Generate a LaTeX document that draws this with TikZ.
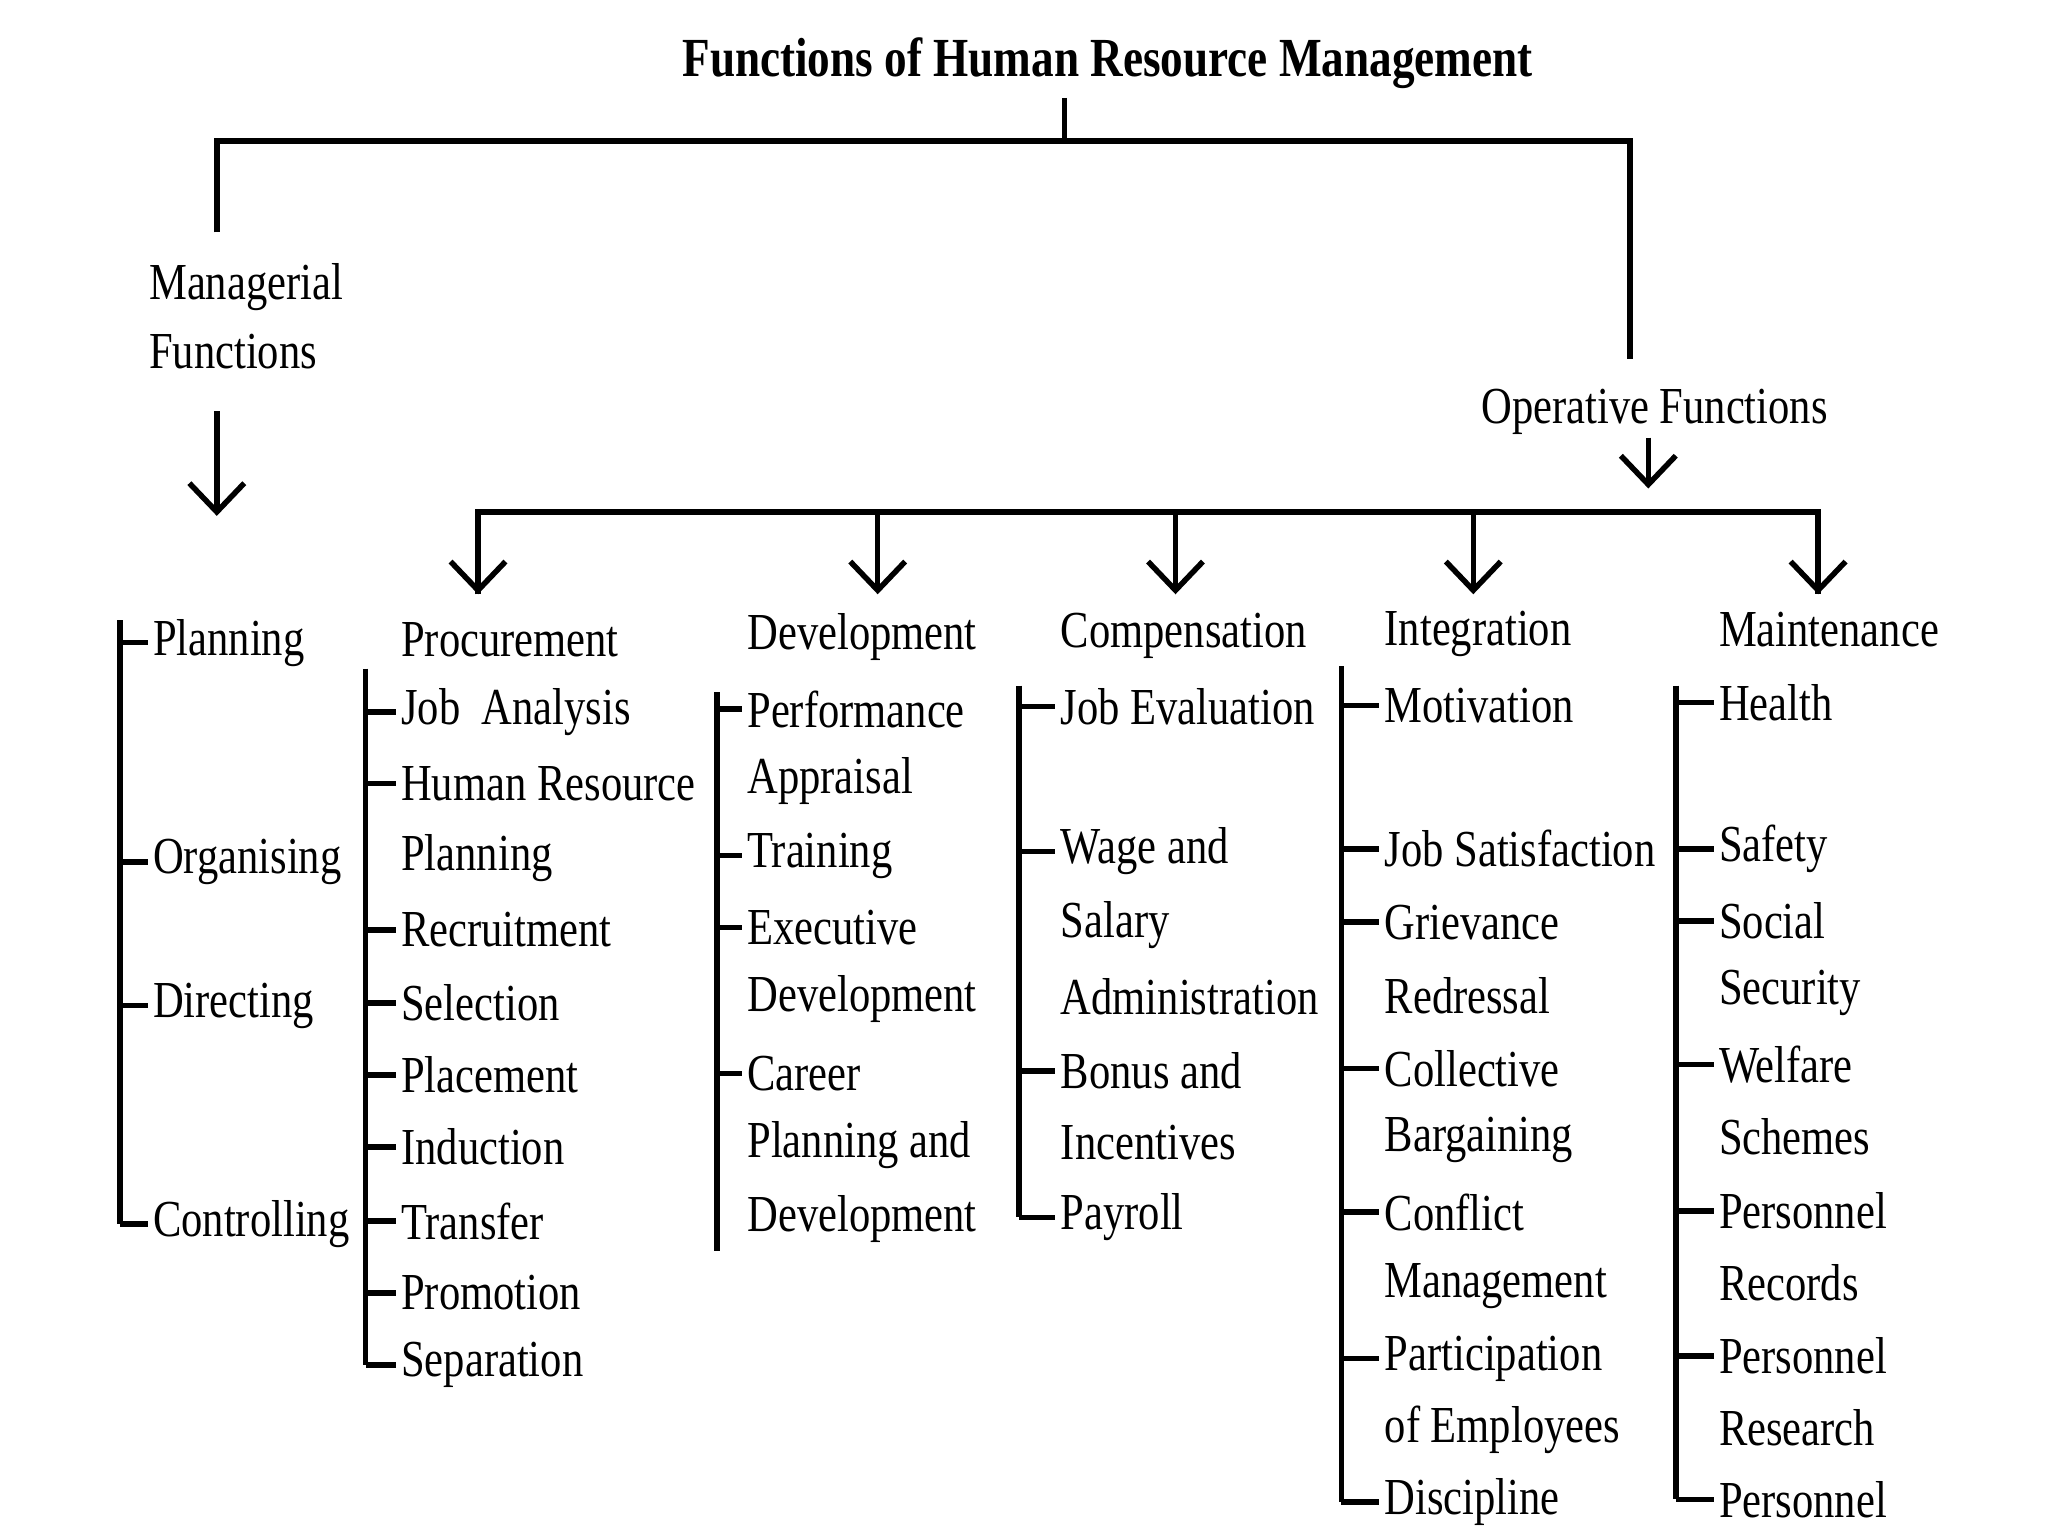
\documentclass[tikz,border=0pt]{standalone}
\usepackage{fontspec}
\setmainfont{Liberation Serif}[FakeStretch=0.82]
\usetikzlibrary{arrows.meta}
\begin{document}
\begin{tikzpicture}[x=0.01cm,y=-0.01cm,
  ln/.style={line width=1.2pt},
  arr/.style={ln,-{Straight Barb[length=2.2mm,width=4.2mm,line width=1.2pt]}},
  txt/.style={anchor=west,inner sep=1pt,font=\fontsize{11.3}{13}\selectfont}]
\useasboundingbox (0,0) rectangle (1568,1176);
\node[font=\fontsize{12}{14}\bfseries\selectfont,inner sep=1pt] (title) at (848,48) {Functions of Human Resource Management};
\draw[ln] (815,75) -- (815,108);
\draw[ln] (166,178) -- (166,108) -- (1248,108) -- (1248,275);
\node[txt,align=left] (man) at (110,242) {Managerial\\[2pt]Functions};
\draw[arr] (166,315) -- (166,395);
\node[txt] (op) at (1130,315) {Operative Functions};
\draw[arr] (1262,335) -- (1262,374);
\draw[ln] (366,455) -- (366,392) -- (1392,392) -- (1392,455);
\foreach \x in {366,672,900,1128,1392} \draw[arr] (\x,392) -- (\x,455);
% managerial column
\draw[ln] (92,475) -- (92,937);
\foreach \y/\t [count=\i] in {492/Planning,660/Organising,770/Directing,937/Controlling}{
  \node[txt] (m\i) at (113,\y) {\t};
  \draw[ln] (92,\y) -- (m\i.west);}
% columns
\node[txt] (h1) at (303,490) {Procurement};
\node[txt] (h2) at (568,488) {Development};
\node[txt] (h3) at (808,487) {Compensation};
\node[txt] (h4) at (1056,485) {Integration};
\node[txt] (h5) at (1312,482) {Maintenance};
\draw[ln] (280,512) -- (280,1045);
\draw[ln] (549,530) -- (549,958);
\draw[ln] (780,525) -- (780,932);
\draw[ln] (1027,510) -- (1027,1150);
\draw[ln] (1283,525) -- (1283,1148);
\foreach \y/\t/\k [count=\i] in {545/Job\ \ Analysis/1,600/Human Resource/1,657/Planning/0,712/Recruitment/1,768/Selection/1,823/Placement/1,878/Induction/1,935/Transfer/1,990/Promotion/1,1045/Separation/1}{
  \node[txt] (a\i) at (303,\y) {\t};
  \ifnum\k=1 \draw[ln] (280,\y) -- (a\i.west);\fi}
\foreach \y/\t/\k [count=\i] in {543/Performance/1,598/Appraisal/0,655/Training/1,710/Executive/1,765/Development/0,822/Career/1,877/Planning and/0,933/Development/0}{
  \node[txt] (b\i) at (568,\y) {\t};
  \ifnum\k=1 \draw[ln] (549,\y) -- (b\i.west);\fi}
\foreach \y/\t/\k [count=\i] in {541/Job Evaluation/1,652/Wage and/1,708/Salary/0,763/Administration/0,820/Bonus and/1,875/Incentives/0,932/Payroll/1}{
  \node[txt] (c\i) at (808,\y) {\t};
  \ifnum\k=1 \draw[ln] (780,\y) -- (c\i.west);\fi}
\foreach \y/\t/\k [count=\i] in {540/Motivation/1,650/Job Satisfaction/1,706/Grievance/1,762/Redressal/0,818/Collective/1,873/Bargaining/0,928/Conflict/1,985/Management/0,1040/Participation/1,1095/of Employees/0,1150/Discipline/1}{
  \node[txt] (d\i) at (1056,\y) {\t};
  \ifnum\k=1 \draw[ln] (1027,\y) -- (d\i.west);\fi}
\foreach \y/\t/\k [count=\i] in {538/Health/1,650/Safety/1,705/Social/1,760/Security/0,815/Welfare/1,870/Schemes/0,927/Personnel/1,982/Records/0,1038/Personnel/1,1093/Research/0,1148/Personnel/1}{
  \node[txt] (e\i) at (1312,\y) {\t};
  \ifnum\k=1 \draw[ln] (1283,\y) -- (e\i.west);\fi}
\end{tikzpicture}
\end{document}
